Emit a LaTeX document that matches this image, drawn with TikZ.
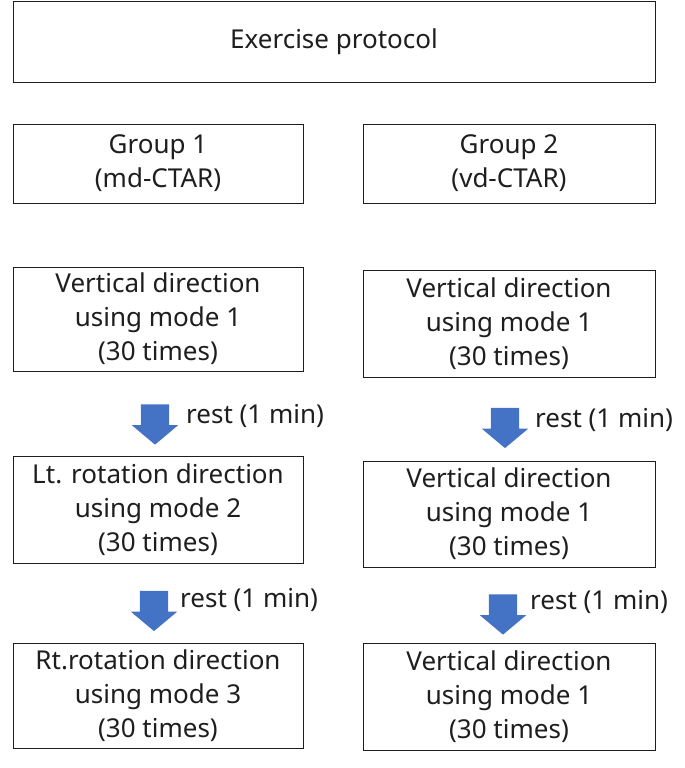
\documentclass[tikz,border=0pt]{standalone}
\usepackage{fontspec}
\setmainfont{Noto Sans}
\usepackage{tikz}
\usetikzlibrary{shapes,arrows,positioning}
\definecolor{arrowblue}{RGB}{68, 114, 196}
\definecolor{ink}{RGB}{30, 30, 30}
\tikzstyle{box} = [rectangle, draw=ink, line width=1pt, fill=white, text=ink, align=center, inner sep=0pt, font=\fontsize{26}{34}\selectfont]
\tikzstyle{restarrow} = [single arrow, draw=none, fill=arrowblue, shape border rotate=270, inner sep=14pt, minimum height=37pt, single arrow head extend=9pt, single arrow tip angle=100]
\tikzstyle{textonly} = [draw=none, fill=none, text=ink, anchor=west, inner sep=0pt, font=\fontsize{26}{34}\selectfont]

\begin{document}
\begin{tikzpicture}[x=1pt, y=-1pt]
\useasboundingbox (0,0) rectangle (685,768);

% boxes =============================

% header
\node[box, minimum width=642pt, minimum height=80pt] (protocol) at (334,42) {Exercise protocol};
\node[box, minimum width=290pt, minimum height=79pt] (group1) at (158,163.5) {Group 1\\(md-CTAR)};
\node[box, minimum width=292pt, minimum height=79pt] (group2) at (509,163.5) {Group 2\\(vd-CTAR)};

% group 1
\node[box, minimum width=290pt, minimum height=104pt] (md1) at (158,319) {Vertical direction\\using mode 1\\(30 times)};
\node[box, minimum width=290pt, minimum height=107pt] (md2) at (158,509.5) {Lt. rotation direction\\using mode 2\\(30 times)};
\node[box, minimum width=290pt, minimum height=105pt] (md3) at (158,695.5) {Rt.rotation direction\\using mode 3\\(30 times)};

% group 2
\node[box, minimum width=292pt, minimum height=107pt] (vd1) at (509,323.5) {Vertical direction\\using mode 1\\(30 times)};
\node[box, minimum width=292pt, minimum height=106pt] (vd2) at (509,514) {Vertical direction\\using mode 1\\(30 times)};
\node[box, minimum width=292pt, minimum height=107pt] (vd3) at (509,696.5) {Vertical direction\\using mode 1\\(30 times)};

% rests =============================

\node[restarrow] (mdrest1) at (155,418.5) {};
\node[textonly] (mdlabel1) at (186,416) {rest (1 min)};
\node[restarrow] (mdrest2) at (154,605) {};
\node[textonly] (mdlabel2) at (180,600) {rest (1 min)};

\node[restarrow] (vdrest1) at (505,422) {};
\node[textonly] (vdlabel1) at (535,420) {rest (1 min)};
\node[restarrow] (vdrest2) at (503,608.5) {};
\node[textonly] (vdlabel2) at (530,602) {rest (1 min)};

\end{tikzpicture}
\end{document}
